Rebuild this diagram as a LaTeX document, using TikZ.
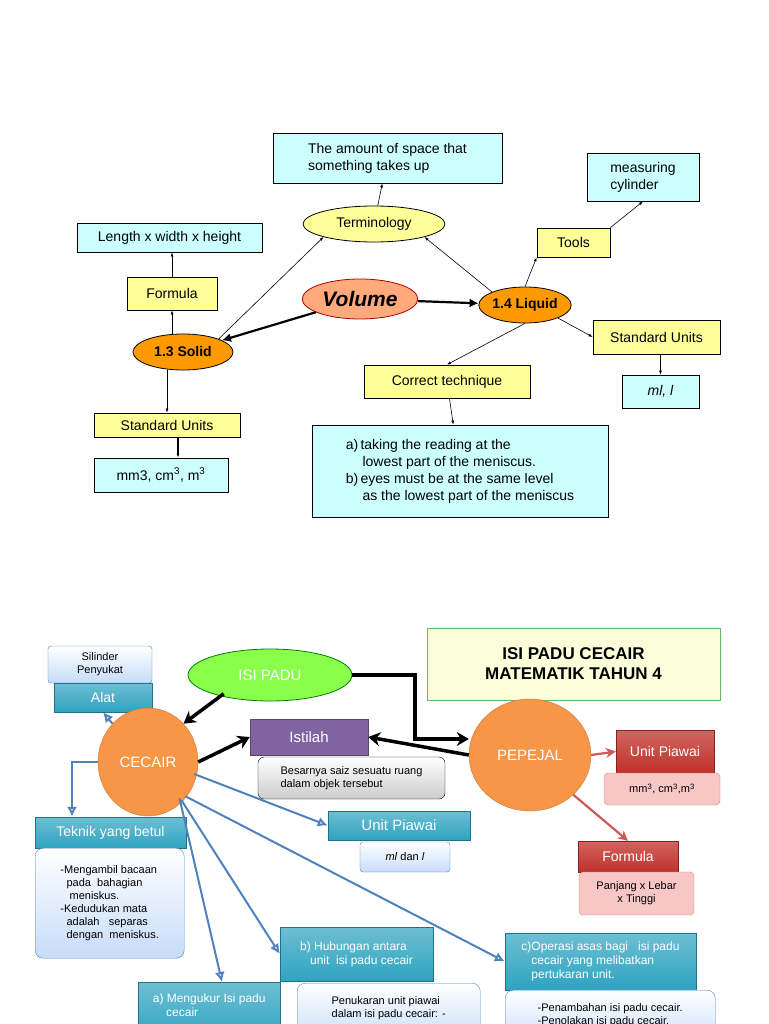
\documentclass[tikz,border=0pt]{standalone}
\usepackage{fontspec}
\setmainfont{Liberation Sans}
\usetikzlibrary{arrows.meta,shapes.geometric}
\definecolor{cyanbox}{HTML}{CCFFFF}
\definecolor{yelbox}{HTML}{FFFF99}
\definecolor{orng}{HTML}{FF9900}
\definecolor{teal}{HTML}{2FA3C0}
\definecolor{purp}{HTML}{8064A2}
\definecolor{redbox}{HTML}{C0312B}
\definecolor{pinkbox}{HTML}{F9C6C6}
\definecolor{lblue}{HTML}{C6DCFA}
\definecolor{myblue}{HTML}{4F81BD}
\definecolor{cecair}{HTML}{F79646}
\newcommand{\fs}[1]{\fontsize{#1}{\the\numexpr #1*6/5\relax}\selectfont}

\begin{document}
\begin{tikzpicture}[x=1pt, y=-1pt,
  >=Latex,
  cbox/.style={rectangle, draw, thick, fill=cyanbox, inner sep=2pt, font=\fs{14}},
  ybox/.style={rectangle, draw, thick, fill=yelbox, inner sep=2pt, font=\fs{14}},
  oval/.style={ellipse, draw, thick, fill=orng, inner sep=0pt, font=\bfseries\fs{14}},
  thin/.style={->, >={Latex[length=4pt,width=3pt]}, line width=0.6pt},
  fat/.style={->, >={Latex[length=9pt,width=9pt]}, line width=2.2pt},
  tealbox/.style={rectangle, draw=teal!70!black, top color=teal!70, bottom color=teal, text=white, inner sep=2pt, font=\fs{14}},
  redb/.style={rectangle, draw=redbox!70!black, top color=redbox!75, bottom color=redbox, text=white, inner sep=2pt, font=\fs{14}},
  pinkb/.style={rectangle, rounded corners=4pt, draw=redbox!60, fill=pinkbox, inner sep=2pt, font=\fs{11}},
  bluebox/.style={rectangle, rounded corners=8pt, draw=myblue, top color=white, bottom color=lblue, inner sep=4pt, font=\fs{11}},
  barr/.style={->, >={Latex[open, length=10pt,width=10pt]}, line width=2pt, draw=myblue},
  kar/.style={->, >={Stealth[length=12pt,width=14pt]}, line width=3.5pt},
  rarr/.style={->, >={Stealth[length=10pt,width=10pt]}, line width=2.2pt, draw=redbox!80}
]
\useasboundingbox (0,0) rectangle (768,1024);
\clip (0,0) rectangle (768,1024);

% English map
\node[cbox, minimum width=229, minimum height=50, align=left] (amount) at (387.5,158) {The amount of space that\\something takes up};
\node[ellipse, draw, thick, fill=yelbox, minimum width=142, minimum height=36, inner sep=0pt, font=\fs{14}] (term) at (374,224) {Terminology};
\node[cbox, minimum width=185, minimum height=29] (length) at (169.5,237.5) {Length x width x height};
\node[ybox, minimum width=90, minimum height=33] (formula) at (172,293.5) {Formula};
\node[ellipse, draw=red!70!black, thick, fill=orange!35!pink, minimum width=110, minimum height=40, font=\bfseries\itshape\fs{21}] (vol) at (360,299) {Volume};
\node[oval, minimum width=100, minimum height=36] (solid) at (183,352) {1.3 Solid};
\node[oval, minimum width=88, minimum height=36] (liquid) at (525,305) {1.4 Liquid};
\node[ybox, minimum width=73, minimum height=29] (tools) at (573.5,242.5) {Tools};
\node[cbox, minimum width=112, minimum height=48, align=left] (cyl) at (643,177) {measuring\\cylinder};
\node[ybox, minimum width=127, minimum height=34] (stdR) at (656.5,337) {Standard Units};
\node[cbox, minimum width=77, minimum height=33, font=\itshape\fs{14}] (mll) at (660.5,391.5) {ml, l};
\node[ybox, minimum width=166, minimum height=33] (tech) at (447,381.5) {Correct technique};
\node[cbox, minimum width=296, minimum height=92, align=left] (read) at (460,471)
  {a)\,taking the reading at the\\\hspace*{1.2em}lowest part of the meniscus.\\b)\,eyes must be at the same level\\\hspace*{1.2em}as the lowest part of the meniscus};
\node[ybox, minimum width=146, minimum height=24] (stdL) at (167,425) {Standard Units};
\node[cbox, minimum width=134, minimum height=34] (mm) at (161,475) {mm3, cm\textsuperscript{3}, m\textsuperscript{3}};

\draw[thin] (term) -- (amount);
\draw[thin] (solid.north east) -- (term.south west);
\draw[thin] (liquid.north west) -- (term.south east);
\draw[fat] (vol) -- (liquid);
\draw[fat] (vol) -- (solid);
\draw[thin] (solid.north -| formula) -- (formula);
\draw[thin] (formula.north) -- (formula.north |- length.south);
\draw[thin] (solid.south -| stdL) -- (stdL);
\draw[thin, line width=1.2pt] (stdL.south -| 178,0) -- (mm.north -| 178,0);
\draw[thin] (liquid.north) -- (tools.south west);
\draw[thin] (tools.north east) -- (cyl.south);
\draw[thin] (liquid.south east) -- (stdR.west);
\draw[thin] (stdR.south -| mll) -- (mll);
\draw[thin] (liquid.south) -- (tech.north);
\draw[thin] (tech) -- (read);

% Malay map
\node[rectangle, draw=green!55!black!60, fill=green!10!yellow!15, minimum width=293, minimum height=72, align=center, font=\bfseries\fs{17}] (title) at (573.5,664) {ISI PADU CECAIR\\MATEMATIK TAHUN 4};
\node[ellipse, draw=green!50!black, thick, fill=green!55!lime!70, minimum width=164, minimum height=52, text=white, font=\fs{15}] (isi) at (270,675) {ISI PADU};
\node[bluebox, rounded corners=3pt, minimum width=104, minimum height=37, align=center] (silinder) at (100,664.5) {Silinder\\Penyukat};
\node[tealbox, minimum width=98, minimum height=29] (alat) at (103,697.5) {Alat};
\node[ellipse, draw=cecair!80!black, fill=cecair, minimum width=100, minimum height=108, text=white, font=\fs{15}] (cec) at (148,762) {CECAIR};
\node[rectangle, draw=purp!70!black, fill=purp, minimum width=118, minimum height=36, text=white, font=\fs{15}] (istilah) at (309,737) {Istilah};
\node[rectangle, rounded corners=6pt, draw=black, top color=white, bottom color=gray!40, minimum width=187, minimum height=42, align=left, font=\fs{11}] (besar) at (351.5,778) {Besarnya saiz sesuatu ruang\\dalam objek tersebut};
\node[ellipse, draw=cecair!80!black, fill=cecair, minimum width=122, minimum height=112, text=white, font=\fs{15}] (pep) at (530,755) {PEPEJAL};
\node[redb, minimum width=98, minimum height=43] (upR) at (665,751.5) {Unit Piawai};
\node[pinkb, minimum width=116, minimum height=32] (mmR) at (662,789) {mm\textsuperscript{3}, cm\textsuperscript{3},m\textsuperscript{3}};
\node[redb, minimum width=100, minimum height=31] (formR) at (628,856.5) {Formula};
\node[pinkb, minimum width=115, minimum height=43, align=center] (panjang) at (636.5,893.5) {Panjang x Lebar\\x Tinggi};
\node[tealbox, minimum width=151, minimum height=31] (teknik) at (110.5,832.5) {Teknik yang betul};
\node[bluebox, minimum width=149, minimum height=110, align=left, anchor=north west] (tekText) at (35,848)
  {-Mengambil bacaan\\\ \ pada\ \ bahagian\\\ \ \ meniskus.\\-Kedudukan mata\\\ \ adalah\ \ \ separas\\\ \ dengan\ \ meniskus.};
\node[tealbox, minimum width=142, minimum height=29, font=\fs{15}] (upM) at (399,825.5) {Unit Piawai};
\node[bluebox, rounded corners=3pt, minimum width=90, minimum height=30] (mldan) at (405,857) {\textit{ml} dan \textit{l}};
\node[tealbox, minimum width=153, minimum height=54, align=left, font=\fs{12}] (hub) at (356.5,954) {b) Hubungan antara\\\ \ \ unit\ \ isi padu cecair};
\node[bluebox, minimum width=183, minimum height=60, align=left, anchor=north west] (penukaran) at (297,983) {Penukaran unit piawai\\dalam isi padu cecair: -\\\ };
\node[tealbox, minimum width=142, minimum height=60, align=left, anchor=north west, font=\fs{12}] (meng) at (138,982) {a) Mengukur Isi padu\\\ \ \ \ cecair\\\ };
\node[tealbox, minimum width=191, minimum height=57, align=left, font=\fs{12}] (oper) at (600.5,961.5) {c)Operasi asas bagi\ \ \ isi padu\\\ \ \ cecair yang melibatkan\\\ \ \ pertukaran unit.};
\node[bluebox, minimum width=210, minimum height=60, align=left, anchor=north west] (tambah) at (505,990) {-Penambahan isi padu cecair.\\-Penolakan isi padu cecair.\\\ };

\draw[kar] (isi.south west) ++(12,0) -- (cec.north east);
\draw[kar] (isi.east) -| (415,739) -- (pep.west |- 0,739);
\draw[kar] (cec.east) -- (istilah.west);
\draw[kar] (pep.west) -- (istilah.east);
\draw[barr] (cec.north west) -- (alat.south);
\draw[barr] (cec.west) -- (72,762) -- (teknik.north -| 72,0);
\draw[barr] (cec.east) ++(-4,12) -- (upM.west);
\draw[barr] (cec.south east) ++(-2,0) -- (hub.west);
\draw[barr] (cec.south east) ++(-4,-2) -- (meng.north -| 222,0);
\draw[barr] (cec.south east) ++(2,-4) -- (oper.west);
\draw[rarr] (pep.east) -- (upR.west);
\draw[rarr] (pep.south east) -- (formR.north);
\end{tikzpicture}
\end{document}
